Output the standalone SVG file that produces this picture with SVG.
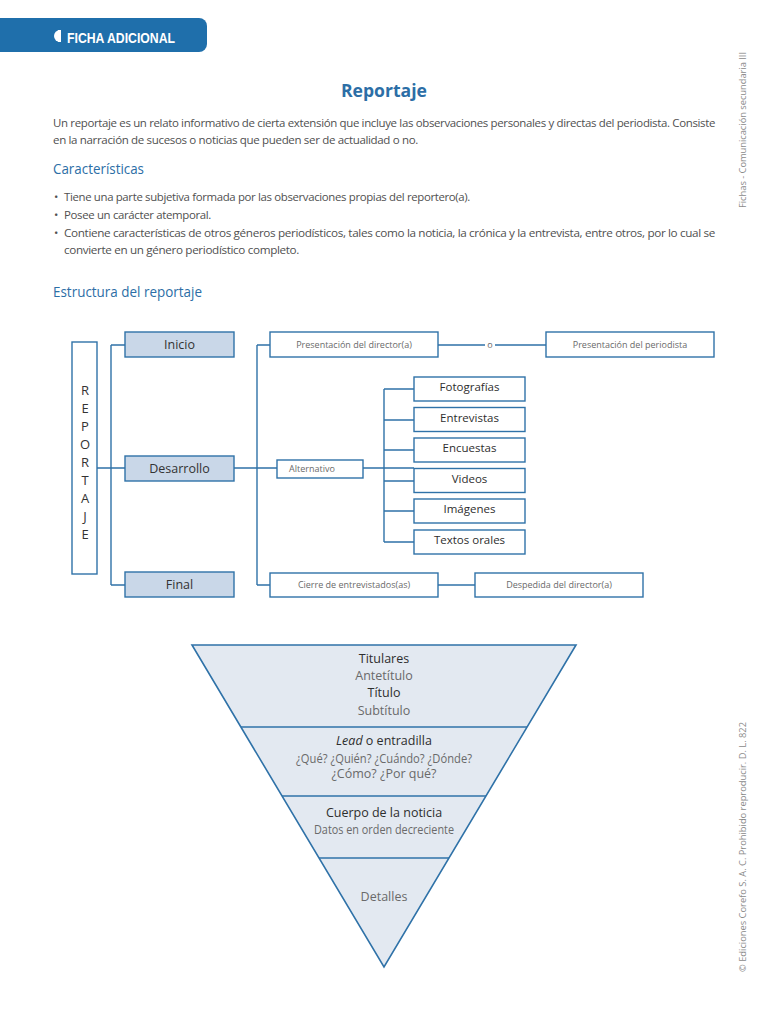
<svg xmlns="http://www.w3.org/2000/svg" width="768" height="1024" viewBox="0 0 768 1024">
<style>
.body{font-family:"Open Sans","Liberation Sans",sans-serif;font-size:11.5px;letter-spacing:-0.35px;fill:#505050}
.h2{font-family:"Open Sans","Liberation Sans",sans-serif;font-size:14.5px;fill:#2c6ea6}
.main{fill:#c9d7e8;stroke:#2f72a8;stroke-width:1.4}
.sub{fill:#fff;stroke:#2f72a8;stroke-width:1.4}
.mt{font-family:"Open Sans","Liberation Sans",sans-serif;font-size:12.5px;fill:#333;text-anchor:middle}
.st{font-family:"Open Sans","Liberation Sans",sans-serif;font-size:9px;fill:#6a6a6a;text-anchor:middle}
.bt{font-family:"Open Sans","Liberation Sans",sans-serif;font-size:11.5px;fill:#2e2e2e;text-anchor:middle}
.ln{fill:none;stroke:#2f72a8;stroke-width:1.4}
.tri{fill:#e3e9f1;stroke:#2f72a8;stroke-width:1.6}
.pb{font-family:"Open Sans","Liberation Sans",sans-serif;font-size:12.5px;fill:#2e2e2e;text-anchor:middle}
.pg{font-family:"Open Sans","Liberation Sans",sans-serif;font-size:12.5px;fill:#6a6a6a;text-anchor:middle}
.side{font-family:"Open Sans","Liberation Sans",sans-serif;font-size:8.5px;fill:#8a8a8a}
</style>

<g id="header">
<path d="M0 18 H199 A8 8 0 0 1 207 26 V44 A8 8 0 0 1 199 52 H0 Z" fill="#1f6fab"/>
<path d="M60 30 A6 6 0 0 0 60 42 Z" fill="#fff"/>
<rect x="58" y="30" width="3" height="12" fill="#fff"/>
<text x="67" y="42.5" font-family="Liberation Sans Narrow,Liberation Sans,sans-serif" font-weight="bold" font-size="15.5" fill="#fff" textLength="108" lengthAdjust="spacingAndGlyphs">FICHA ADICIONAL</text>
</g>

<text x="384" y="97" text-anchor="middle" font-family="Open Sans,Liberation Sans,sans-serif" font-weight="bold" font-size="18" fill="#2c6ea6" textLength="86" lengthAdjust="spacingAndGlyphs">Reportaje</text>

<text class="body" x="53" y="127" textLength="662" lengthAdjust="spacingAndGlyphs">Un reportaje es un relato informativo de cierta extensión que incluye las observaciones personales y directas del periodista.  Consiste</text>
<text class="body" x="53" y="144" textLength="365" lengthAdjust="spacingAndGlyphs">en la narración de sucesos o noticias que pueden ser de actualidad o no.</text>

<text class="h2" x="53" y="174" textLength="91" lengthAdjust="spacingAndGlyphs">Características</text>

<g class="body">
<text x="54" y="201">•</text>
<text x="64" y="201" textLength="406" lengthAdjust="spacingAndGlyphs">Tiene una parte subjetiva formada por las observaciones propias del reportero(a).</text>
<text x="54" y="219">•</text>
<text x="64" y="219" textLength="147" lengthAdjust="spacingAndGlyphs">Posee un carácter atemporal.</text>
<text x="54" y="237">•</text>
<text x="64" y="237" textLength="651" lengthAdjust="spacingAndGlyphs">Contiene características de otros géneros periodísticos, tales como la noticia, la crónica y la entrevista, entre otros, por lo cual se</text>
<text x="64" y="254" textLength="235" lengthAdjust="spacingAndGlyphs">convierte en un género periodístico completo.</text>
</g>

<text class="h2" x="53" y="297" textLength="149" lengthAdjust="spacingAndGlyphs">Estructura del reportaje</text>

<g id="connectors">
<path class="ln" d="M97 468 H125 M111 345 V585 M111 345 H125 M111 585 H125"/>
<path class="ln" d="M234 468 H277 M257 345 V585 M257 345 H270 M257 585 H270"/>
<path class="ln" d="M438 345 H485 M495 345 H546"/>
<path class="ln" d="M363 468 H414 M384 389 V542 M384 389 H414 M384 420 H414 M384 450 H414 M384 481 H414 M384 511 H414 M384 542 H414"/>
<path class="ln" d="M438 585 H475"/>
<text class="st" x="490" y="348">o</text>
</g>

<g id="reportaje">
<rect class="sub" x="72" y="342" width="25" height="232"/>
<g font-family="Open Sans,Liberation Sans,sans-serif" font-size="13" fill="#333" text-anchor="middle">
<text x="85" y="395">R</text>
<text x="85" y="413">E</text>
<text x="85" y="431">P</text>
<text x="85" y="449">O</text>
<text x="85" y="467">R</text>
<text x="85" y="485">T</text>
<text x="85" y="503">A</text>
<text x="85" y="521">J</text>
<text x="85" y="539">E</text>
</g>
</g>

<g id="inicio"><rect class="main" x="125" y="332" width="109" height="25"/><text class="mt" x="179.5" y="349">Inicio</text></g>
<g id="desarrollo"><rect class="main" x="125" y="456" width="109" height="25"/><text class="mt" x="179.5" y="473">Desarrollo</text></g>
<g id="final"><rect class="main" x="125" y="572" width="109" height="25"/><text class="mt" x="179.5" y="589">Final</text></g>

<g id="pres-director"><rect class="sub" x="270" y="332" width="168" height="25"/><text class="st" x="354" y="348">Presentación del director(a)</text></g>
<g id="pres-periodista"><rect class="sub" x="546" y="332" width="168" height="25"/><text class="st" x="630" y="348">Presentación del periodista</text></g>
<g id="alternativo"><rect class="sub" x="277" y="460" width="86" height="18"/><text class="st" x="312" y="472">Alternativo</text></g>
<g id="cierre"><rect class="sub" x="270" y="573" width="168" height="24"/><text class="st" x="354" y="588">Cierre de entrevistados(as)</text></g>
<g id="despedida"><rect class="sub" x="475" y="573" width="168" height="24"/><text class="st" x="559" y="588">Despedida del director(a)</text></g>

<g id="fotografias"><rect class="sub" x="414" y="377" width="111" height="24"/><text class="bt" x="469.5" y="391">Fotografías</text></g>
<g id="entrevistas"><rect class="sub" x="414" y="407.5" width="111" height="24"/><text class="bt" x="469.5" y="421.5">Entrevistas</text></g>
<g id="encuestas"><rect class="sub" x="414" y="438" width="111" height="24"/><text class="bt" x="469.5" y="452">Encuestas</text></g>
<g id="videos"><rect class="sub" x="414" y="468.5" width="111" height="24"/><text class="bt" x="469.5" y="482.5">Videos</text></g>
<g id="imagenes"><rect class="sub" x="414" y="499" width="111" height="24"/><text class="bt" x="469.5" y="513">Imágenes</text></g>
<g id="textos-orales"><rect class="sub" x="414" y="530" width="111" height="24"/><text class="bt" x="469.5" y="544">Textos orales</text></g>

<g id="piramide">
<polygon class="tri" points="192,645 576,645 384,967"/>
<line class="ln" stroke-width="1.6" x1="241" y1="727" x2="527" y2="727"/>
<line class="ln" stroke-width="1.6" x1="282" y1="796" x2="486" y2="796"/>
<line class="ln" stroke-width="1.6" x1="319" y1="858" x2="449" y2="858"/>
<text class="pb" x="384" y="663">Titulares</text>
<text class="pg" x="384" y="680">Antetítulo</text>
<text class="pb" x="384" y="697">Título</text>
<text class="pg" x="384" y="715">Subtítulo</text>
<text class="pb" x="384" y="745"><tspan font-style="italic">Lead</tspan> o entradilla</text>
<text class="pg" x="384" y="763" textLength="176" lengthAdjust="spacingAndGlyphs">¿Qué? ¿Quién? ¿Cuándo? ¿Dónde?</text>
<text class="pg" x="384" y="778">¿Cómo? ¿Por qué?</text>
<text class="pb" x="384" y="817">Cuerpo de la noticia</text>
<text class="pg" x="384" y="834" textLength="140" lengthAdjust="spacingAndGlyphs">Datos en orden decreciente</text>
<text class="pg" x="384" y="901">Detalles</text>
</g>

<text class="side" transform="translate(746,208) rotate(-90)" textLength="156" lengthAdjust="spacingAndGlyphs">Fichas - Comunicación secundaria III</text>
<text class="side" transform="translate(746,972) rotate(-90)" textLength="250" lengthAdjust="spacingAndGlyphs">© Ediciones Corefo S. A. C. Prohibido reproducir. D. L. 822</text>
</svg>
